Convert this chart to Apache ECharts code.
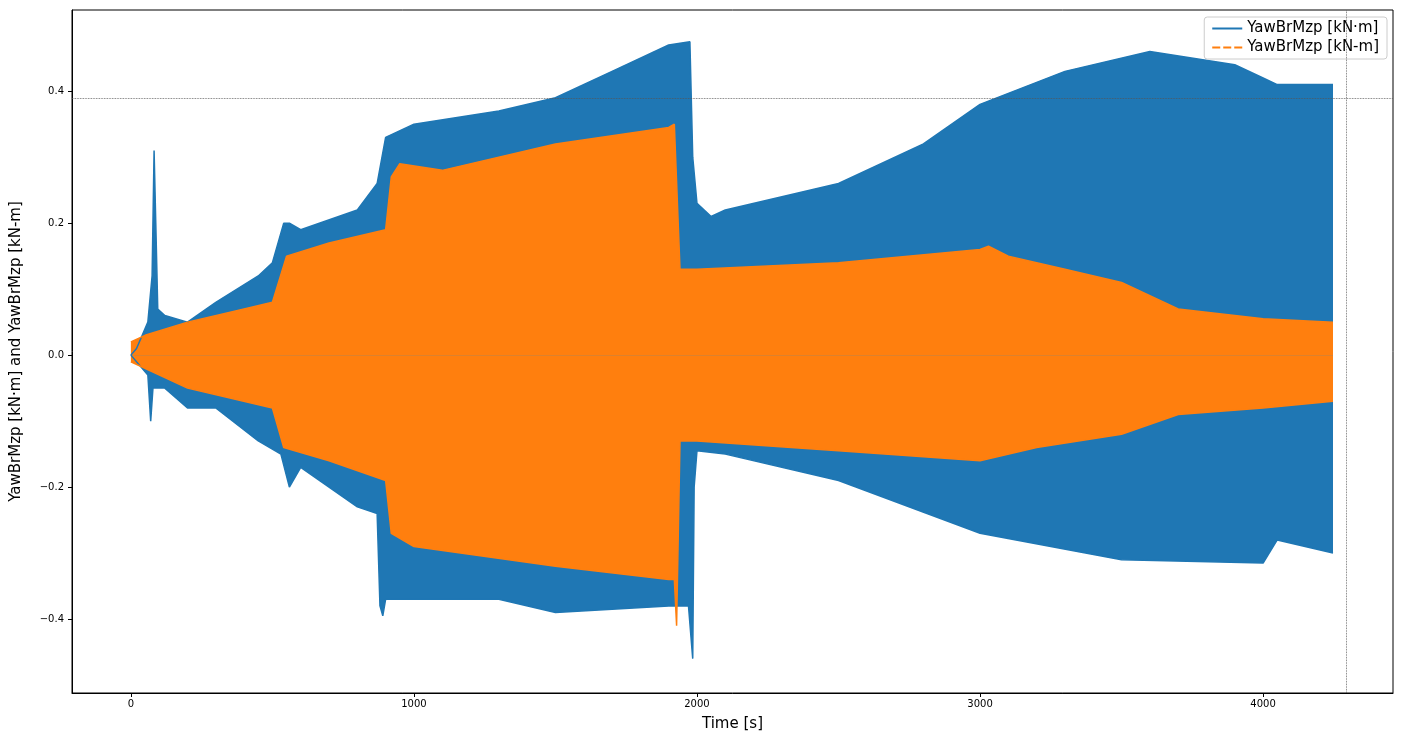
<!DOCTYPE html>
<html><head><meta charset="utf-8">
<script src="https://cdn.jsdelivr.net/npm/echarts@6/dist/echarts.min.js"></script>
<style>html,body{margin:0;background:#fff}#c{width:1411px;height:742px}</style>
</head><body><div id="c"></div>
<script>
// envelopes of the oscillating signals, [time, value]
const blueUpper = [[0,0],[20,0.01],[60,0.05],[75,0.12],[82,0.31],[88,0.2],[95,0.07],[120,0.06],[200,0.05],[300,0.08],[450,0.12],[500,0.14],[540,0.2],[560,0.2],[600,0.19],[800,0.22],[870,0.26],[900,0.33],[1000,0.35],[1300,0.37],[1500,0.39],[1700,0.43],[1900,0.47],[1975,0.475],[1985,0.3],[2000,0.23],[2050,0.21],[2100,0.22],[2500,0.26],[2800,0.32],[3000,0.38],[3300,0.43],[3600,0.46],[3900,0.44],[4000,0.42],[4050,0.41],[4247,0.41]];
const blueLower = [[0,0],[60,-0.03],[70,-0.1],[78,-0.05],[120,-0.05],[200,-0.08],[300,-0.08],[450,-0.13],[530,-0.15],[560,-0.2],[600,-0.17],[800,-0.23],[870,-0.24],[880,-0.38],[890,-0.395],[900,-0.37],[1300,-0.37],[1500,-0.39],[1900,-0.38],[1970,-0.38],[1985,-0.46],[1990,-0.2],[2000,-0.145],[2100,-0.15],[2500,-0.19],[3000,-0.27],[3500,-0.31],[4000,-0.315],[4050,-0.28],[4247,-0.3]];
const orangeUpper = [[0,0.02],[50,0.03],[200,0.05],[400,0.07],[500,0.08],[550,0.15],[700,0.17],[900,0.19],[920,0.27],[950,0.29],[1100,0.28],[1500,0.32],[1900,0.345],[1920,0.35],[1940,0.13],[2000,0.13],[2500,0.14],[3000,0.16],[3030,0.165],[3100,0.15],[3300,0.13],[3500,0.11],[3700,0.07],[4000,0.055],[4247,0.05]];
const orangeLower = [[0,-0.01],[200,-0.05],[500,-0.08],[540,-0.14],[700,-0.16],[900,-0.19],[920,-0.27],[1000,-0.29],[1500,-0.32],[1900,-0.34],[1920,-0.34],[1928,-0.41],[1940,-0.13],[2000,-0.13],[2500,-0.145],[3000,-0.16],[3200,-0.14],[3500,-0.12],[3700,-0.09],[4000,-0.08],[4247,-0.07]];
const xTicks = [0, 1000, 2000, 3000, 4000];
const yTicks = [-0.4, -0.2, 0, 0.2, 0.4];
const refY = 0.386, refX = 4293;

const B = '#1f77b4', O = '#ff7f0e';
const nameB = 'YawBrMzp [kN·m]', nameO = 'YawBrMzp [kN-m]';
const fmt = v => (v < 0 ? '\u2212' + Math.abs(v).toFixed(1) : (Math.abs(v) < 1e-9 ? '0.0' : v.toFixed(1)));
const band = (name, data, color, extra) => Object.assign({
  name, type: 'line', data, symbol: 'none', silent: true, animation: false,
  lineStyle: { color, width: 1.5 }, itemStyle: { color },
  areaStyle: { color, opacity: 1, origin: 0 }
}, extra || {});

const chart = echarts.init(document.getElementById('c'));
chart.setOption({
  animation: false,
  grid: { left: 72, right: 18, top: 10, bottom: 49, show: true, borderColor: '#000', borderWidth: 1 },
  legend: {
    right: 24, top: 17, orient: 'vertical', itemGap: 4, itemWidth: 30, itemHeight: 2,
    backgroundColor: 'rgba(255,255,255,0.85)', borderColor: '#ccc', borderWidth: 1, borderRadius: 3, padding: [4, 8],
    textStyle: { fontSize: 15, fontFamily: 'DejaVu Sans', color: '#000' },
    data: [{ name: nameB, icon: 'rect', itemStyle: { color: B } },
           { name: nameO, icon: 'path://M0,0h8v2h-8zM11,0h8v2h-8zM22,0h8v2h-8z', itemStyle: { color: O } }]
  },
  xAxis: {
    type: 'value', min: -208, max: 4459, name: 'Time [s]', nameLocation: 'middle', nameGap: 24,
    nameTextStyle: { fontSize: 15, fontFamily: 'DejaVu Sans', color: '#000' },
    splitLine: { show: false },
    axisLine: { onZero: false, lineStyle: { color: '#000' } },
    axisTick: { customValues: xTicks, length: 4, lineStyle: { color: '#000' } },
    axisLabel: { customValues: xTicks, formatter: v => String(v), fontSize: 10, fontFamily: 'DejaVu Sans', color: '#000', margin: 6 }
  },
  yAxis: {
    type: 'value', min: -0.512, max: 0.523, name: 'YawBrMzp [kN·m] and YawBrMzp [kN-m]',
    nameLocation: 'middle', nameGap: 48,
    nameTextStyle: { fontSize: 15, fontFamily: 'DejaVu Sans', color: '#000' },
    splitLine: { show: false },
    axisLine: { onZero: false, lineStyle: { color: '#000' } },
    axisTick: { customValues: yTicks, length: 4, lineStyle: { color: '#000' } },
    axisLabel: { customValues: yTicks, formatter: fmt, fontSize: 10, fontFamily: 'DejaVu Sans', color: '#000', margin: 8 }
  },
  series: [
    band(nameB, blueUpper, B, {
      markLine: { symbol: 'none', silent: true, label: { show: false },
        lineStyle: { color: '#555', type: 'dotted', width: 0.8 },
        data: [{ yAxis: refY }, { xAxis: refX }] }
    }),
    band(nameB, blueLower, B),
    band(nameO, orangeUpper, O),
    band(nameO, orangeLower, O)
  ]
});
</script></body></html>
